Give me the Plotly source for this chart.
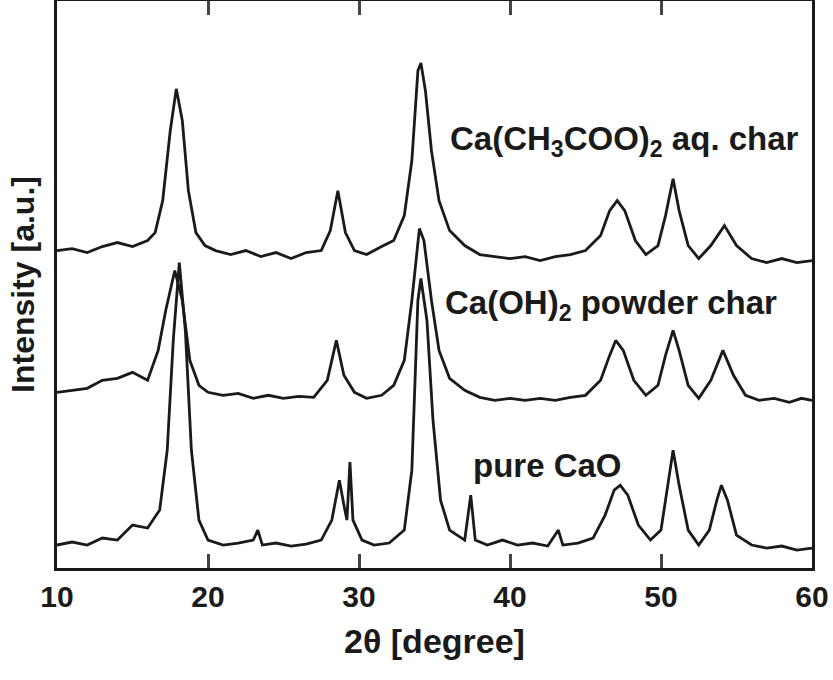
import plotly.graph_objects as go

x_ac = [10,11,12,13,14,15,16,16.5,17,17.5,17.9,18.3,18.7,19.2,19.8,20.5,21.5,22.5,23.5,24.5,25.5,26.5,27.5,28.1,28.6,29.1,29.7,30.5,31.5,32.3,33,33.5,33.9,34.1,34.4,34.8,35.3,36,37,38,39,40,41,42,43,44,45,46,46.6,47.1,47.6,48.3,49,49.8,50.3,50.8,51.2,51.8,52.5,53.3,54.2,55,56,57,58,59,60]
y_ac = [313,315,311,317,321,317,323,331,363,433,475,443,373,331,318,313,309,313,307,311,305,311,313,333,373,331,313,309,317,323,348,403,493,501,473,413,363,333,318,309,307,305,307,303,307,309,313,328,353,363,353,323,309,318,348,385,353,318,305,318,338,318,305,301,305,301,303]

x_oh = [10,11,12,13,14,15,16,16.7,17.2,17.8,18.3,18.8,19.4,20,21,22,23,24,25,26,27,27.9,28.5,29,29.7,30.5,31.5,32.3,33,33.5,34.0,34.3,34.8,35.3,36,37,38,39,40,41,42,43,44,45,46,46.6,47.0,47.5,48.2,49,49.8,50.3,50.8,51.2,51.8,52.5,53.3,54.1,54.8,55.6,56.5,57.5,58.5,59.3,60]
y_oh = [171,173,175,183,185,191,183,213,253,293,263,203,178,171,168,170,165,168,165,167,166,183,223,188,171,165,168,178,203,263,335,323,263,213,185,173,166,163,165,163,165,163,166,168,183,208,223,213,183,168,178,208,233,213,178,165,183,213,188,168,163,165,161,165,163]

x_cao = [10,11,12,13,14,15,16,16.8,17.3,17.7,18.1,18.5,18.9,19.4,20,21,22,23,23.3,23.6,24.5,25.5,26.5,27.5,28.2,28.7,29.0,29.2,29.4,29.6,30.2,31,32,33,33.5,33.9,34.1,34.5,34.9,35.4,36,37,37.4,37.7,38.5,39.5,40.5,41.5,42.5,43.2,43.5,44.5,45.5,46.3,46.9,47.3,47.8,48.5,49.3,50,50.5,50.8,51.2,51.8,52.5,53.2,53.7,54.0,54.4,55,56,57,58,59,60]
y_cao = [18,21,18,25,23,38,35,53,113,223,301,233,113,43,23,18,20,23,33,18,20,17,19,23,43,83,58,43,101,43,23,18,20,33,93,263,285,243,143,63,33,23,68,23,18,23,18,20,17,33,18,20,25,48,73,78,68,38,23,33,83,113,78,33,18,33,63,78,63,28,18,15,17,13,15]

labels = ["Ca(CH<sub>3</sub>COO)<sub>2</sub> aq. char", "Ca(OH)<sub>2</sub> powder char", "pure CaO"]
label_x = [47.6, 46.7, 42.5]
label_y = [423, 258, 98]

fig = go.Figure()
for xs, ys in [(x_ac, y_ac), (x_oh, y_oh), (x_cao, y_cao)]:
    fig.add_trace(go.Scatter(x=xs, y=ys, mode="lines", line=dict(color="#1a1a1a", width=2.8), showlegend=False))
for t, lx, ly in zip(labels, label_x, label_y):
    fig.add_annotation(x=lx, y=ly, text=t, showarrow=False, font=dict(size=33, color="#1a1a1a", family="Liberation Sans", weight="bold"))

fig.update_layout(
    width=833, height=680, plot_bgcolor="white", paper_bgcolor="white",
    margin=dict(l=57, r=21, t=1, b=112, autoexpand=False),
    font=dict(family="Liberation Sans", color="#1a1a1a"),
    xaxis=dict(range=[10, 60], tickvals=[10,20,30,40,50,60], ticks="inside", ticklen=14, tickwidth=2.5,
               showline=True, linewidth=3, linecolor="#1a1a1a", mirror="ticks", showgrid=False, zeroline=False,
               automargin=False, tickfont=dict(size=30, weight="bold"),
               title=dict(text="2θ [degree]", font=dict(size=34, weight="bold"), standoff=18)),
    yaxis=dict(range=[-5, 563], showticklabels=False, ticks="", showline=True, linewidth=3, linecolor="#1a1a1a",
               mirror=True, showgrid=False, zeroline=False, automargin=False,
               title=dict(text="Intensity [a.u.]", font=dict(size=32, weight="bold"), standoff=10)),
)
fig.write_html("out.html", config={"displayModeBar": False})
with open("out.html", encoding="utf-8") as f:
    html = f.read()
html = html.replace("<body>", '<body style="margin:0">', 1)
with open("out.html", "w", encoding="utf-8") as f:
    f.write(html)
